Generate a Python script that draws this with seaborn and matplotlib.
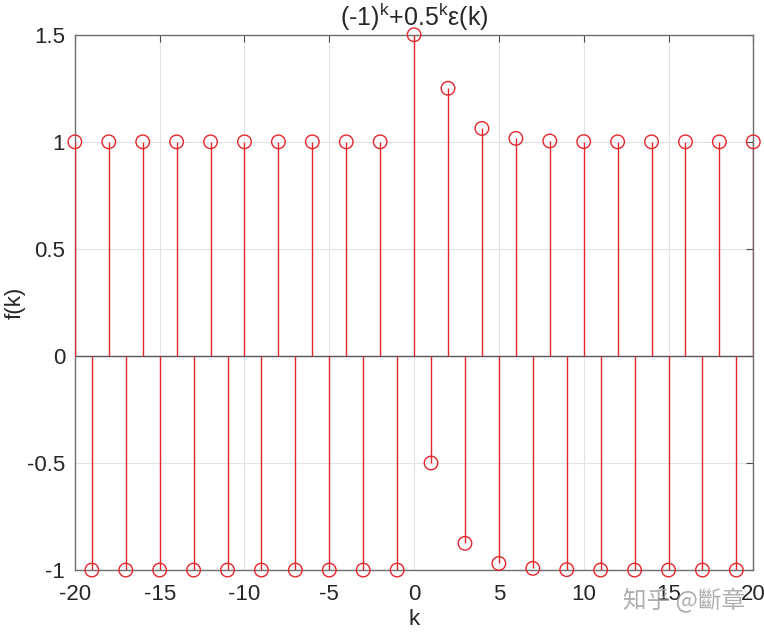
import numpy as np
import pandas as pd
import matplotlib
matplotlib.use("Agg")
import matplotlib.pyplot as plt
import seaborn as sns

# data
k = list(range(-20, 21))
f_neg = [1, -1, 1, -1, 1, -1, 1, -1, 1, -1, 1, -1, 1, -1, 1, -1, 1, -1, 1, -1]
f_pos = [1.5, -0.5, 1.25, -0.875, 1.0625, -0.969, 1.016, -0.992, 1.004, -0.998,
         1.001, -1.0, 1.0, -1.0, 1.0, -1.0, 1.0, -1.0, 1.0, -1.0, 1.0]
x_ticks = [-20, -15, -10, -5, 0, 5, 10, 15, 20]
y_ticks = [-1, -0.5, 0, 0.5, 1, 1.5]
y_tick_labels = ["-1", "-0.5", "0", "0.5", "1", "1.5"]

df = pd.DataFrame({"k": k, "f": f_neg + f_pos})

sns.set_style("white")
plt.rcParams["font.family"] = ["Liberation Sans", "DejaVu Sans"]
plt.rcParams["mathtext.fontset"] = "custom"
plt.rcParams["mathtext.rm"] = "Liberation Sans"
plt.rcParams["mathtext.it"] = "Liberation Sans"
plt.rcParams["axes.unicode_minus"] = False

red = "#e4262c"
fig = plt.figure(figsize=(7.64, 6.32), dpi=100)
ax = fig.add_axes([0.098, 0.098, 0.888, 0.847])

# stems + baseline
ax.vlines(df["k"], 0, df["f"], color=red, linewidth=1.0, zorder=3)
ax.axhline(0, color="#555555", linewidth=1.0, zorder=2)
sns.scatterplot(data=df, x="k", y="f", ax=ax, marker="o", s=95,
                facecolor="none", edgecolor=red, linewidth=1.0, zorder=4,
                clip_on=False)

ax.set_xlim(-20, 20)
ax.set_ylim(-1, 1.5)
ax.set_xticks(x_ticks)
ax.set_yticks(y_ticks)
ax.set_yticklabels(y_tick_labels)
ax.grid(True, color="#e3e3e3", linewidth=0.8)
ax.set_axisbelow(True)
for s in ax.spines.values():
    s.set_color("#6e6e6e")
    s.set_linewidth(1.0)
    s.set_visible(True)
ax.tick_params(direction="in", length=5, width=0.8, color="#4a4a4a",
               labelsize=16, top=True, right=True)
ax.tick_params(axis="x", pad=10)
ax.tick_params(axis="y", pad=7)

ax.set_xlabel("k", fontsize=16, labelpad=3)
ax.set_ylabel("f(k)", fontsize=16, labelpad=1)
ax.set_title(r"(-1)$^{k}$+0.5$^{k}$ε(k)", fontsize=18, pad=6)

# watermark
fig.text(0.816, 0.05, "知乎 @斷章", fontsize=17, color="#9a9a9a", alpha=0.8,
         va="center", family=["Noto Sans CJK TC", "DejaVu Sans"], zorder=10)

fig.savefig("out.png", dpi=100)
